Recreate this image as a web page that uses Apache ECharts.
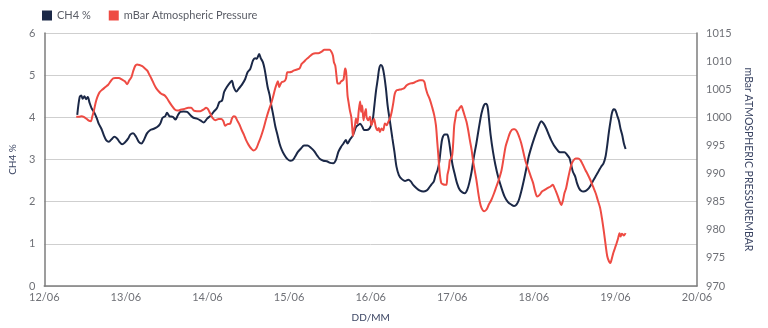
<!DOCTYPE html>
<html>
<head>
<meta charset="utf-8">
<script src="https://cdn.jsdelivr.net/npm/echarts@6/dist/echarts.min.js"></script>
<style>
  html, body { margin: 0; padding: 0; background: #fff; }
  #chart { width: 768px; height: 328px; }
</style>
</head>
<body>
<div id="chart"></div>
<script>
// Time is in hours from 12/06 00:00
const dayTicks = ['12/06', '13/06', '14/06', '15/06', '16/06', '17/06', '18/06', '19/06', '20/06'];
const seriesNames = ['CH4 %', 'mBar Atmospheric Pressure'];

// [hour, CH4 %]
const ch4Readings = [
  [9.7,4.06],[10.4,4.48],[10.9,4.52],[11.3,4.44],[11.8,4.50],[12.3,4.43],[12.8,4.48],[13.3,4.35],[13.9,4.22],[14.6,4.13],
  [15.4,3.99],[16.0,3.85],[16.8,3.73],[17.5,3.58],[18.2,3.46],[19.0,3.42],[19.8,3.48],[20.6,3.54],[21.4,3.50],[22.1,3.42],
  [22.9,3.36],[23.9,3.42],[24.7,3.50],[25.3,3.59],[26.1,3.62],[27.0,3.54],[27.8,3.42],[28.6,3.38],[29.3,3.46],[30.2,3.62],
  [31.2,3.70],[32.2,3.73],[33.2,3.77],[34.1,3.85],[34.8,3.99],[35.6,4.03],[36.1,4.11],[36.8,4.03],[37.8,4.01],[38.6,3.95],
  [39.3,4.05],[40.0,4.13],[41.0,4.14],[42.0,4.13],[43.0,4.05],[43.9,3.99],[44.9,3.97],[45.9,3.93],[46.9,3.88],[47.9,3.97],
  [48.8,4.03],[49.8,4.13],[50.8,4.22],[51.5,4.36],[52.3,4.40],[52.9,4.60],[53.7,4.72],[54.7,4.83],[55.2,4.87],[55.7,4.72],
  [56.5,4.61],[57.2,4.68],[58.1,4.77],[59.1,4.91],[59.8,5.07],[60.6,5.15],[61.4,5.35],[62.0,5.40],[62.5,5.39],[63.2,5.50],
  [63.7,5.40],[64.3,5.31],[64.8,5.15],[65.3,4.91],[65.7,4.72],[66.3,4.52],[66.7,4.32],[67.4,4.03],[68.0,3.77],[68.6,3.58],
  [69.2,3.38],[69.9,3.22],[70.6,3.11],[71.3,3.03],[72.3,2.97],[73.0,2.98],[73.8,3.07],[74.6,3.18],[75.5,3.26],[76.4,3.33],
  [77.4,3.33],[78.4,3.28],[79.4,3.20],[80.3,3.09],[81.1,3.01],[82.1,2.97],[83.1,2.96],[84.1,2.92],[85.0,2.91],[85.8,2.99],
  [86.5,3.18],[87.3,3.30],[88.0,3.38],[88.7,3.46],[89.2,3.38],[89.9,3.47],[90.7,3.56],[91.2,3.66],[91.7,3.77],[92.2,3.81],
  [92.9,3.85],[93.6,3.77],[94.1,3.70],[94.8,3.70],[95.6,3.73],[96.1,3.81],[96.6,3.93],[97.1,4.28],[97.6,4.64],[98.1,4.91],
  [98.5,5.15],[99.0,5.24],[99.5,5.19],[100.0,4.99],[100.5,4.68],[101.0,4.28],[101.7,3.89],[102.4,3.50],[103.0,3.18],[103.6,2.83],
  [104.3,2.63],[105.1,2.54],[106.1,2.49],[107.1,2.52],[107.8,2.48],[108.5,2.40],[109.5,2.32],[110.5,2.26],[111.5,2.24],[112.4,2.26],
  [113.1,2.32],[113.9,2.41],[114.6,2.48],[115.1,2.63],[115.7,2.75],[116.2,2.95],[116.7,3.30],[117.1,3.50],[117.8,3.59],[118.5,3.59],
  [119.0,3.46],[119.5,3.18],[120.1,2.87],[120.8,2.63],[121.4,2.44],[122.2,2.28],[123.0,2.22],[123.7,2.20],[124.4,2.28],[125.0,2.44],
  [125.7,2.71],[126.3,3.03],[127.1,3.38],[127.8,3.73],[128.6,4.09],[129.3,4.28],[129.9,4.32],[130.4,4.25],[130.8,3.97],[131.3,3.58],
  [132.0,3.18],[132.7,2.87],[133.5,2.59],[134.5,2.32],[135.4,2.12],[136.4,1.99],[137.4,1.93],[138.2,1.90],[138.9,1.93],[139.6,2.04],
  [140.3,2.24],[141.1,2.52],[141.8,2.79],[142.5,3.07],[143.3,3.30],[144.1,3.50],[144.8,3.66],[145.7,3.85],[146.2,3.91],[146.9,3.85],
  [147.7,3.73],[148.4,3.59],[149.1,3.46],[149.9,3.34],[150.6,3.26],[151.4,3.18],[152.1,3.17],[153.0,3.17],[153.7,3.12],[154.5,3.03],
  [155.0,2.87],[155.5,2.71],[156.2,2.59],[156.7,2.44],[157.3,2.32],[157.9,2.26],[158.6,2.24],[159.4,2.26],[160.2,2.32],[160.9,2.41],
  [161.6,2.52],[162.4,2.63],[163.1,2.73],[163.8,2.83],[164.5,2.91],[165.1,3.07],[165.6,3.34],[166.1,3.66],[166.6,3.93],[167.0,4.11],
  [167.5,4.19],[168.0,4.17],[168.5,4.05],[169.0,3.93],[169.5,3.73],[170.0,3.58],[170.5,3.38],[171.0,3.25]
];

// [hour, mbar]
const pressureReadings = [
  [9.4,1000.1],[10.2,1000.1],[11.0,1000.2],[11.6,1000.1],[12.3,999.8],[13.1,999.4],[13.7,999.3],[14.1,1000.1],[14.6,1001.2],[15.1,1002.6],
  [15.6,1003.6],[16.2,1004.4],[17.0,1004.9],[18.0,1005.4],[18.8,1005.8],[19.5,1006.4],[20.2,1006.9],[20.9,1007.0],[21.9,1007.0],[22.9,1006.7],
  [23.7,1006.4],[24.4,1005.9],[25.0,1006.6],[25.6,1007.1],[26.2,1008.3],[26.8,1009.2],[27.3,1009.4],[28.0,1009.3],[28.8,1009.1],[29.6,1008.7],
  [30.3,1008.3],[30.9,1007.6],[31.5,1006.9],[32.2,1006.0],[32.9,1005.2],[33.7,1004.6],[34.4,1004.2],[35.4,1003.9],[36.1,1003.4],[36.8,1002.7],
  [37.6,1002.0],[38.4,1001.4],[39.3,1001.2],[40.3,1001.4],[41.3,1001.5],[42.3,1001.7],[43.2,1001.7],[44.0,1001.2],[44.9,1001.1],[45.9,1001.1],
  [46.9,1001.4],[47.6,1001.7],[48.1,1001.5],[48.8,1000.7],[49.5,999.9],[50.3,999.5],[51.3,999.7],[52.1,999.7],[52.7,999.3],[53.2,998.5],
  [53.9,998.8],[54.7,998.9],[55.2,999.8],[55.7,1000.2],[56.2,1000.1],[56.7,999.5],[57.5,998.6],[58.1,997.7],[58.8,996.8],[59.4,995.9],
  [60.1,995.1],[60.8,994.5],[61.6,994.1],[62.3,994.4],[63.0,995.4],[63.7,996.5],[64.5,998.0],[65.3,999.8],[66.0,1001.2],[66.7,1002.4],
  [67.4,1003.9],[67.9,1005.1],[68.4,1006.0],[68.7,1006.4],[69.1,1005.4],[69.4,1005.8],[69.9,1006.3],[70.6,1006.4],[71.1,1006.9],[71.5,1008.0],
  [72.1,1008.0],[72.8,1008.1],[73.3,1008.3],[74.3,1008.5],[75.1,1008.7],[75.7,1009.5],[76.4,1009.9],[77.2,1010.4],[78.2,1010.9],[79.0,1011.3],
  [79.7,1011.4],[80.6,1011.4],[81.6,1011.7],[82.4,1012.0],[83.1,1012.0],[83.9,1012.0],[84.4,1011.7],[84.9,1011.0],[85.2,1009.8],[85.6,1009.2],
  [86.0,1007.1],[86.3,1006.0],[86.8,1006.0],[87.3,1006.4],[88.0,1006.7],[88.5,1008.7],[88.8,1008.0],[89.2,1003.9],[89.5,1002.7],[89.9,1001.2],
  [90.3,1000.1],[90.6,998.0],[90.8,996.7],[91.1,997.7],[91.4,998.6],[91.7,999.8],[92.1,998.9],[92.5,1001.2],[92.9,1002.8],[93.2,1001.0],
  [93.5,1002.1],[93.9,999.5],[94.1,1000.2],[94.6,1001.5],[94.8,1000.1],[95.3,999.5],[95.8,1000.1],[96.2,998.6],[96.6,999.2],[97.0,999.7],
  [97.5,998.3],[98.0,997.7],[98.4,998.1],[98.7,997.4],[99.2,998.0],[99.7,997.7],[100.2,998.9],[100.7,998.6],[101.2,999.2],[101.7,999.8],
  [102.2,1001.0],[102.7,1002.7],[103.1,1004.2],[103.6,1004.8],[104.3,1004.9],[105.1,1005.0],[105.9,1005.2],[106.6,1005.7],[107.5,1006.0],[108.5,1006.1],
  [109.5,1006.4],[110.5,1006.6],[111.2,1006.6],[111.8,1006.3],[112.2,1005.2],[112.7,1004.2],[113.4,1003.2],[114.1,1001.8],[114.7,1000.4],[115.2,998.6],
  [115.6,995.6],[115.9,993.3],[116.2,990.9],[116.5,989.2],[116.8,988.3],[117.3,988.1],[117.8,988.0],[118.3,988.0],[118.6,989.8],[119.0,990.9],
  [119.3,992.4],[119.6,992.6],[120.0,993.3],[120.3,995.6],[120.6,998.6],[121.0,1000.1],[121.4,1001.2],[121.7,1001.2],[122.2,1001.7],[122.7,1002.0],
  [123.2,1001.2],[123.7,1000.2],[124.2,999.2],[124.7,997.7],[125.2,995.9],[125.7,994.2],[126.1,992.4],[126.6,990.6],[127.1,988.9],[127.6,986.8],
  [128.1,985.0],[128.6,983.9],[129.4,983.3],[130.1,983.6],[130.7,984.4],[131.5,985.3],[132.3,986.5],[133.0,987.7],[133.7,988.9],[134.5,990.6],
  [135.1,992.7],[135.7,994.8],[136.4,996.2],[137.1,997.4],[137.9,997.9],[138.4,997.9],[139.1,997.4],[139.7,996.5],[140.3,995.4],[141.0,993.6],
  [141.6,992.1],[142.3,990.9],[143.1,989.5],[143.8,988.3],[144.4,986.8],[145.0,985.9],[145.7,986.2],[146.4,986.8],[147.2,987.1],[148.0,987.4],
  [148.9,987.7],[149.6,988.0],[150.1,987.4],[150.6,986.7],[151.1,985.9],[151.6,985.0],[152.1,984.4],[152.6,985.3],[153.0,986.5],[153.5,987.4],
  [154.0,988.9],[154.5,990.3],[155.0,991.5],[155.5,992.2],[156.3,992.7],[157.0,992.7],[157.7,992.4],[158.4,991.6],[159.2,990.6],[159.9,989.8],
  [160.6,988.9],[161.4,987.7],[162.2,986.5],[162.8,985.3],[163.5,983.9],[164.1,981.8],[164.6,979.7],[165.1,977.4],[165.6,975.3],[166.1,974.4],
  [166.5,974.1],[167.0,975.0],[167.4,975.9],[167.9,976.8],[168.4,977.7],[168.8,978.5],[169.2,979.4],[169.5,978.8],[169.9,979.3],[170.5,979.0],
  [171.0,979.4]
];

const navy = '#1b2847';
const red = '#ee4b43';
const labelColor = '#6f7177';
const nameColor = '#3b4563';
const fontFamily = 'Lato, "Open Sans", sans-serif';

const chart = echarts.init(document.getElementById('chart'), null, { renderer: 'canvas' });
chart.setOption({
  animation: false,
  textStyle: { fontFamily: fontFamily },
  legend: {
    left: 37,
    top: 5,
    itemWidth: 10,
    itemHeight: 10,
    itemGap: 18,
    icon: 'rect',
    textStyle: { color: '#5a5d66', fontSize: 11, fontFamily: fontFamily },
    data: seriesNames
  },
  grid: { left: 42, right: 71, top: 33, bottom: 41, containLabel: false },
  xAxis: {
    type: 'value',
    min: 0,
    max: 192,
    interval: 24,
    name: 'DD/MM',
    nameLocation: 'middle',
    nameGap: 27,
    nameTextStyle: { color: nameColor, fontSize: 10, fontFamily: fontFamily },
    axisLine: { show: true, lineStyle: { color: '#7d7d7d', width: 1.5 } },
    axisTick: { show: false },
    splitLine: { show: false },
    axisLabel: {
      color: labelColor, fontSize: 11, margin: 6,
      formatter: function (v) { return dayTicks[Math.round(v / 24)]; }
    }
  },
  yAxis: [
    {
      type: 'value',
      min: 0,
      max: 6,
      interval: 1,
      name: 'CH4 %',
      nameLocation: 'middle',
      nameGap: 24,
      nameTextStyle: { color: nameColor, fontSize: 10, fontFamily: fontFamily },
      axisLine: { show: true, lineStyle: { color: '#7d7d7d', width: 1.5 } },
      axisTick: { show: false },
      axisLabel: { color: labelColor, fontSize: 11, margin: 9 },
      splitLine: { show: true, lineStyle: { color: '#cfcfcf', width: 1 } }
    },
    {
      type: 'value',
      min: 970,
      max: 1015,
      interval: 5,
      position: 'right',
      name: 'mBar ATMOSPHERIC PRESSUREMBAR',
      nameLocation: 'middle',
      nameRotate: -90,
      nameGap: 44,
      nameTextStyle: { color: nameColor, fontSize: 10.5, fontFamily: fontFamily },
      axisLine: { show: true, lineStyle: { color: '#7d7d7d', width: 1.5 } },
      axisTick: { show: false },
      axisLabel: {
        color: labelColor, fontSize: 11, margin: 9,
        formatter: function (v) { return String(v); }
      },
      splitLine: { show: false }
    }
  ],
  series: [
    {
      name: seriesNames[0],
      type: 'line',
      yAxisIndex: 0,
      data: ch4Readings,
      showSymbol: false,
      smooth: 0.3,
      lineStyle: { color: navy, width: 2 },
      itemStyle: { color: navy }
    },
    {
      name: seriesNames[1],
      type: 'line',
      yAxisIndex: 1,
      data: pressureReadings,
      showSymbol: false,
      smooth: 0.3,
      lineStyle: { color: red, width: 2 },
      itemStyle: { color: red }
    }
  ]
});
</script>
</body>
</html>
